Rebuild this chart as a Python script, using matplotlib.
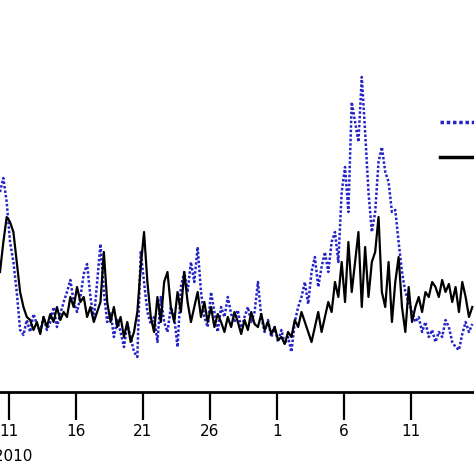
import numpy as np
import pandas as pd
import matplotlib
matplotlib.use("Agg")
import matplotlib.pyplot as plt
import matplotlib.dates as mdates
from matplotlib.lines import Line2D

# 6-hourly samples starting 10 Sep 2010 08:00
start = "2010-09-10 08:00"

observed = [200, 214, 190, 150, 130, 100, 62, 57, 72, 60, 78, 68, 60, 75, 62, 70, 85, 65, 78, 90,
            100, 112, 90, 80, 95, 118, 128, 95, 72, 110, 148, 100, 70, 80, 55, 72, 60, 45, 68, 55,
            40, 35, 140, 110, 80, 68, 75, 50, 95, 70, 60, 85, 75, 45, 105, 120, 100, 130, 110, 145,
            100, 75, 65, 100, 80, 60, 85, 75, 95, 78, 70, 82, 62, 75, 85, 70, 80, 110, 75, 60,
            72, 55, 65, 50, 62, 48, 55, 40, 70, 85, 95, 110, 88, 120, 135, 105, 125, 140, 120, 150,
            160, 130, 200, 225, 180, 290, 270, 250, 315, 260, 200, 160, 180, 230, 245, 220, 210, 180, 182, 150,
            120, 100, 90, 80, 70, 75, 60, 70, 55, 62, 50, 60, 55, 72, 65, 50, 45, 42, 58, 70,
            60, 68]

modeled = [120, 150, 175, 170, 160, 130, 100, 85, 75, 72, 62, 70, 58, 75, 65, 78, 70, 85, 72, 80,
           75, 95, 85, 105, 90, 95, 75, 85, 70, 80, 90, 140, 90, 70, 85, 65, 75, 55, 70, 50,
           60, 80, 125, 160, 110, 75, 60, 95, 70, 110, 120, 85, 70, 100, 80, 120, 90, 70, 85, 100,
           75, 90, 70, 85, 65, 78, 70, 60, 75, 65, 80, 70, 58, 72, 62, 80, 68, 65, 78, 62,
           70, 58, 65, 52, 55, 48, 60, 55, 72, 65, 80, 70, 60, 50, 65, 80, 60, 75, 90, 80,
           110, 95, 130, 90, 150, 100, 130, 160, 85, 145, 95, 130, 140, 175, 100, 85, 130, 70, 110, 135,
           85, 60, 105, 70, 85, 95, 80, 100, 95, 110, 105, 95, 112, 100, 108, 90, 105, 80, 110, 95,
           75, 85]

times = pd.date_range(start, periods=len(observed), freq="6h")

BLUE = "#2424c8"
DOTS = (0, (1, 0.8))

fig = plt.figure(figsize=(4.74, 4.74), dpi=100)
ax = fig.add_axes([0, 1 - 392 / 474, 1, 392 / 474])

ax.plot(times, observed, color=BLUE, linestyle=DOTS, linewidth=1.8, zorder=2)
ax.plot(times, modeled, color="black", linestyle="-", linewidth=1.6, zorder=3)

ax.set_xlim(pd.Timestamp("2010-09-10 08:00"), pd.Timestamp("2010-10-15 17:00"))
ax.set_ylim(0, 392)

for s in ["left", "top", "right"]:
    ax.spines[s].set_visible(False)
ax.spines["bottom"].set_linewidth(2)
ax.set_yticks([])

ax.xaxis.set_major_locator(mdates.DayLocator(bymonthday=[1, 6, 11, 16, 21, 26]))
ax.xaxis.set_major_formatter(mdates.DateFormatter("%-d"))
ax.tick_params(axis="x", length=20, width=1.6, direction="out", labelsize=11, pad=3)

fig.text(32 / 474, 1 - 456 / 474, "Sep 2010", ha="right", va="center", fontsize=11)

handles = [Line2D([0], [0], color=BLUE, linestyle=DOTS, linewidth=2.5),
           Line2D([0], [0], color="black", linewidth=2.5)]
ax.legend(handles, ["Observed", "Modeled"], loc="upper left", bbox_to_anchor=(0.90, 0.74),
          frameon=False, handlelength=3, labelspacing=1.3, fontsize=11)

fig.savefig("out.png", dpi=100)
